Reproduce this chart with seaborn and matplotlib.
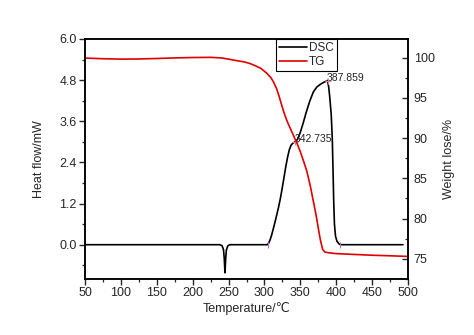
import numpy as np
import pandas as pd
import matplotlib
matplotlib.use("Agg")
import matplotlib.pyplot as plt
from matplotlib.ticker import MultipleLocator
import seaborn as sns

# ---- data ----
dsc_temp = [50, 238, 241, 243, 244, 245, 246, 247, 249, 252, 304, 306, 308, 310, 312, 314.5, 317,
            319.5, 322, 324.5, 327, 329.5, 332, 334.5, 337, 339.5, 342.7, 346, 350, 354, 358,
            363, 368, 373, 378, 382, 385, 387.9, 389.5, 391, 393, 394.5, 395.5, 396.5, 397.5,
            399, 401, 404, 406, 493]
dsc_heat = [0, 0, -0.03, -0.15, -0.4, -0.82, -0.4, -0.15, -0.03, 0, 0, 0.05, 0.15, 0.28, 0.44,
            0.64, 0.86, 1.08, 1.33, 1.62, 1.93, 2.25, 2.53, 2.76, 2.9, 2.96, 3.0, 3.07, 3.28,
            3.55, 3.85, 4.18, 4.45, 4.6, 4.68, 4.73, 4.76, 4.78, 4.6, 4.3, 3.8, 3.1, 2.2, 1.25,
            0.6, 0.25, 0.1, 0.02, 0, 0]

tg_temp = [50, 75, 100, 125, 150, 175, 200, 225, 240, 250, 262, 272, 280, 288, 295, 303,
           309, 313, 317, 320, 323, 326, 329, 332, 335, 338, 342, 346, 350, 355, 359, 364,
           368, 372, 375, 378, 381, 384, 390, 400, 425, 450, 475, 500]
tg_weight = [99.93, 99.85, 99.8, 99.82, 99.88, 99.95, 100.0, 100.02, 99.95, 99.8, 99.6, 99.45,
             99.25, 98.95, 98.65, 98.07, 97.5, 96.9, 96.1, 95.3, 94.4, 93.5, 92.7, 92.0, 91.4,
             90.8, 90.0, 89.2, 88.3, 87.0, 85.9, 84.0, 82.2, 80.4, 78.8, 77.3, 76.2, 75.85,
             75.75, 75.65, 75.55, 75.45, 75.38, 75.3]

peak_temps = [342.735, 387.859]
peak_heat = [3.0, 4.78]
peak_labels = ["342.735", "387.859"]
onset_temps = [305, 405]
onset_heat = [0, 0]

x_ticks = list(range(50, 501, 50))
left_ticks = [0.0, 1.2, 2.4, 3.6, 4.8, 6.0]
right_ticks = [75, 80, 85, 90, 95, 100]

# ---- style ----
sns.set_style("ticks")
plt.rcParams['font.family'] = ['Liberation Sans', 'DejaVu Sans']
plt.rcParams['axes.linewidth'] = 1.1

fig = plt.figure(figsize=(4.74, 3.35), dpi=100)
ax = fig.add_axes([0.1793, 0.1672, 0.8608 - 0.1793, 0.8836 - 0.1672])
ax2 = ax.twinx()

dsc_df = pd.DataFrame({"T": dsc_temp, "Q": dsc_heat})
tg_df = pd.DataFrame({"T": tg_temp, "W": tg_weight})

sns.lineplot(data=dsc_df, x="T", y="Q", ax=ax, color="black", lw=1.2,
             estimator=None, sort=False, label="DSC", legend=False)
sns.lineplot(data=tg_df, x="T", y="W", ax=ax2, color="#e00000", lw=1.2,
             estimator=None, sort=False, label="TG", legend=False)

sns.scatterplot(x=onset_temps, y=onset_heat, ax=ax, marker="|", s=18,
                color="#b070d0", linewidth=0.8, zorder=5, legend=False)
sns.scatterplot(x=peak_temps, y=peak_heat, ax=ax, marker="+", s=14,
                color="#e080b0", linewidth=0.8, zorder=5, legend=False)
for t, v, lab in zip(peak_temps, peak_heat, peak_labels):
    ax.text(t - 1, v + 0.08, lab, fontsize=7.5, ha="left", va="center", color="#222222")

ax.set_xlim(50, 500)
ax.set_ylim(-1.0, 6.0)
ax2.set_ylim(72.5, 102.3)

ax.set_xticks(x_ticks)
ax.set_yticks(left_ticks)
ax.set_yticklabels([f"{v:.1f}" for v in left_ticks])
ax2.set_yticks(right_ticks)
ax.xaxis.set_minor_locator(MultipleLocator(25))
ax.yaxis.set_minor_locator(MultipleLocator(0.6))
ax2.yaxis.set_minor_locator(MultipleLocator(2.5))

ax.tick_params(axis="both", which="major", direction="out", length=4, width=1,
               labelsize=9, pad=2, top=False, right=False)
ax.tick_params(axis="both", which="minor", direction="out", length=2.5, width=0.9,
               top=False, right=False)
ax2.tick_params(axis="y", which="major", direction="in", length=4, width=1,
                labelsize=9, pad=4)
ax2.tick_params(axis="y", which="minor", direction="in", length=2.5, width=0.9)

ax.set_xlabel("Temperature/\u2103", fontsize=9, labelpad=2)
ax.set_ylabel("Heat flow/mW", fontsize=9, labelpad=10)
ax2.set_ylabel("Weight lose/%", fontsize=9, labelpad=6)

for a in (ax, ax2):
    for s in a.spines.values():
        s.set_visible(True)
        s.set_color("black")
        s.set_linewidth(1.1)

h1, l1 = ax.get_legend_handles_labels()
h2, l2 = ax2.get_legend_handles_labels()
leg = ax2.legend(h1 + h2, l1 + l2, loc="upper left", bbox_to_anchor=(0.59, 1.0),
                 borderaxespad=0, fancybox=False, edgecolor="black", framealpha=1,
                 fontsize=8.5, handlelength=2.4, handletextpad=0.2, borderpad=0.25,
                 labelspacing=0.15)
leg.get_frame().set_linewidth(0.8)

fig.savefig("out.png", dpi=100)
